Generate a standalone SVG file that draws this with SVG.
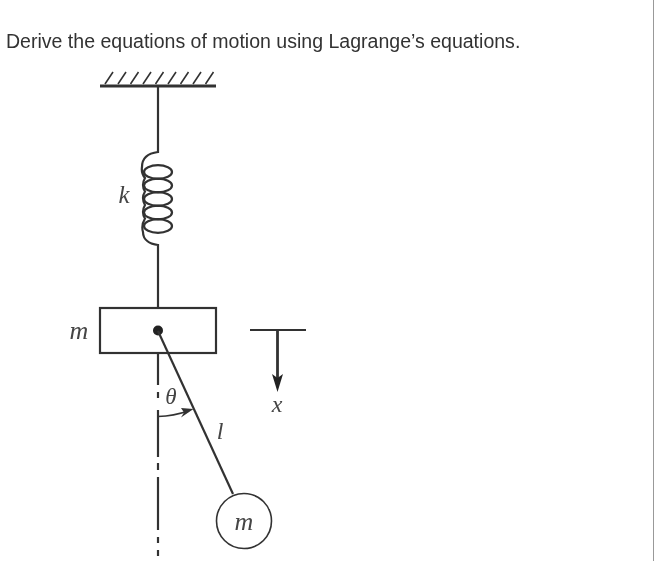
<svg xmlns="http://www.w3.org/2000/svg" width="654" height="561" viewBox="0 0 654 561">
<defs><filter id="soft" x="-5%" y="-5%" width="110%" height="110%"><feGaussianBlur stdDeviation="0.45"/></filter></defs>
<style>
.l{fill:none;stroke:#333;stroke-width:2.2}
.h{fill:none;stroke:#333;stroke-width:1.6}
.v{font-family:"Liberation Serif",serif;font-style:italic;fill:#444;text-anchor:middle}
</style>
<rect width="654" height="561" fill="#fff"/>
<g filter="url(#soft)">
<text x="6" y="47.500" font-family="Liberation Sans, Arial, sans-serif" font-size="19.55px" fill="#333">Derive the equations of motion using Lagrange’s equations.</text>
<g id="support">
<path class="l" d="M100 86H216" style="stroke-width:2.800"/>
<path class="h" d="M105 84L113 72M118 84L126 72M130.500 84L138.500 72M143 84L151 72M155.500 84L163.500 72M168 84L176 72M180.500 84L188.500 72M193 84L201 72M205.500 84L213.500 72"/>
</g>
<g id="spring">
<path class="l" d="M158 86V152C150 153 142 157 142 167Q141 173 145 178Q141 185 145 191.500Q141 198 145 205Q141 212 145 218.500Q141 225 143 232C143 240 150 244 158 245V308"/>
<ellipse class="l" cx="158" cy="172" rx="14" ry="6.800"/>
<ellipse class="l" cx="158" cy="185.500" rx="14" ry="6.800"/>
<ellipse class="l" cx="158" cy="199" rx="14" ry="6.800"/>
<ellipse class="l" cx="158" cy="212.500" rx="14" ry="6.800"/>
<ellipse class="l" cx="158" cy="226" rx="14" ry="6.800"/>
<text class="v" x="124" y="203" style="font-size:25px">k</text>
</g>
<g id="block">
<rect class="l" x="100" y="308" width="116" height="45"/>
<circle cx="158" cy="330.500" r="5" fill="#222"/>
<text class="v" x="79" y="339" style="font-size:26px">m</text>
</g>
<g id="connectors">
<path class="l" d="M158 353V385M158 392V398M158 410V457M158 463V470M158 477V530M158 537V543M158 550V556"/>
<path class="l" d="M158 331L233 494"/>
<path class="h" d="M158 416.500Q174 416 188 411"/>
<path d="M193.500 409L181 417.500L184 412.500L181 408Z" fill="#333"/>
<path class="l" d="M250 330H306"/>
<path class="l" d="M277.500 330V378" style="stroke-width:2.800"/>
<path d="M272 374L277.500 392L283 374L277.500 378Z" fill="#222"/>
</g>
<g id="bob">
<circle class="h" cx="244" cy="521" r="27.500"/>
<text class="v" x="244" y="530" style="font-size:26px">m</text>
</g>
<g id="labels">
<text class="v" x="171" y="404" style="font-size:23px">θ</text>
<text class="v" x="220" y="439" style="font-size:24px">l</text>
<text class="v" x="277" y="412" style="font-size:24px">x</text>
</g>
</g>
<path d="M653.500 0V561" stroke="#999" stroke-width="1" fill="none"/>
</svg>
